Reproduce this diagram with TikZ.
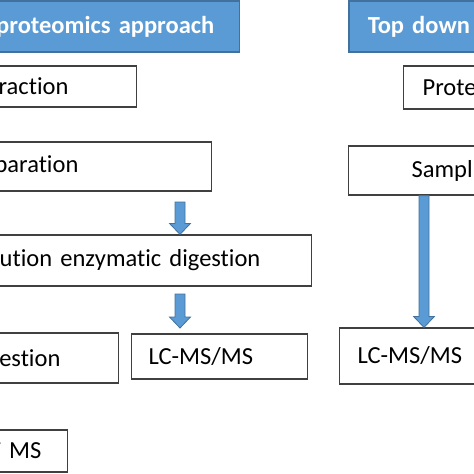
\documentclass[tikz,border=0pt]{standalone}
\usepackage{fontspec}
\setmainfont{Carlito}[Ligatures=NoCommon]
\usetikzlibrary{%
    calc, %
    positioning%
}
\definecolor{hdrblue}{HTML}{5B9BD5}
\definecolor{hdrline}{HTML}{41719C}
\definecolor{boxline}{HTML}{404040}

\tikzset{
    stepbox/.style={draw=boxline, line width=1.2pt, fill=white},
    titlebox/.style={draw=hdrline, fill=hdrblue, line width=1.5pt, text=white,
        font=\fontsize{24.5}{28}\selectfont\bfseries},
    cutL/.style={anchor=east, align=right, text width=400pt, inner xsep=#1, inner ysep=0pt},
    cutR/.style={anchor=west, align=left, text width=400pt, inner xsep=#1, inner ysep=0pt},
    blockarr/.style={draw=hdrline, fill=hdrblue, line width=0.8pt,
        to path={let \p1=(\tikztostart), \p2=(\tikztotarget) in
            (\x1-5pt,\y1) -- (\x1+5pt,\y1) -- (\x1+5pt,\y2+11pt) -- (\x1+10.5pt,\y2+11pt)
            -- (\x1,\y2) -- (\x1-10.5pt,\y2+11pt) -- (\x1-5pt,\y2+11pt) -- cycle}}
}

\begin{document}
\begin{tikzpicture}[x=1pt, y=-1pt, font=\fontsize{24.5}{28}\selectfont]

				\useasboundingbox (0,0) rectangle (474,474);
				\clip (0,0) rectangle (474,474);

				% bottom up column
				\node[titlebox, cutL=25pt, minimum height=51pt] (hdrbu) at (240,26.5) {proteomics approach};
				\node[stepbox, cutL=68pt, minimum height=41pt] (extr) at (137,86.5) {raction};
				\node[stepbox, cutL=133pt, minimum height=49pt] (sepa) at (212,166.5) {paration};
				\node[stepbox, cutL=51pt, minimum height=51pt] (enz) at (312,260.5) {ution enzymatic digestion};
				\node[stepbox, cutL=58pt, minimum height=50pt] (gel) at (119,358) {estion};
				\node[stepbox, anchor=west, align=left, text width=142pt, inner xsep=17pt, inner ysep=0pt,
					minimum height=45pt] (lcmsa) at (131,356.5) {LC-MS/MS};
				\node[stepbox, cutL=26pt, minimum height=42pt] (maldi) at (68,451) {F MS};

				% top down column
				\node[titlebox, cutR=19pt, minimum height=51pt] (hdrtd) at (348,26.5) {Top down};
				\node[stepbox, cutR=19pt, minimum height=43pt] (prot) at (403,87.5) {Prote};
				\node[stepbox, cutR=63pt, minimum height=49pt] (samp) at (348,170.5) {Sampl};
				\node[stepbox, cutR=18pt, minimum height=56pt] (lcmsb) at (339,356) {LC-MS/MS};

				% arrows
				\coordinate (a1) at (180,202);
				\coordinate (a2) at (180,294);
				\coordinate (a2end) at (180,328);
				\coordinate (tdx) at (424,0);
				\draw[blockarr] (a1) to (a1 |- enz.north);
				\draw[blockarr] (a2) to (a2end);
				\draw[blockarr] (samp.south -| tdx) to (lcmsb.north -| tdx);
\end{tikzpicture}
\end{document}
